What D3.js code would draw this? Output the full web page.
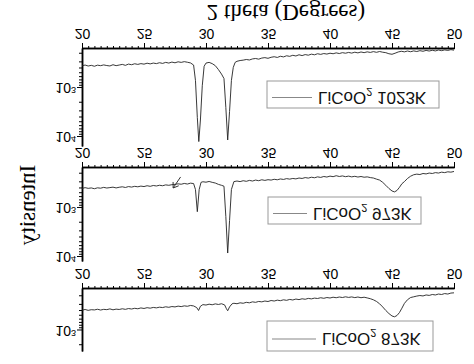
<!DOCTYPE html>
<meta charset="utf-8">
<style>
body{margin:0;background:#fff;}
svg#chart text{font-family:"Liberation Sans",Arial,sans-serif;}
</style>
<svg id="chart" width="474" height="364"></svg>
<script src="https://d3js.org/d3.v7.min.js"></script>
<script>
// XRD patterns of LiCoO2 annealed at three temperatures.
// The reference picture is mirrored top to bottom, so the chart is drawn
// the normal way and the whole group is flipped at the end.

// [2 theta (deg), intensity (counts)]
const XRD_1023K = [[20,352],[20.25,340],[20.5,356],[20.75,345],[21,360],[21.25,342],[21.5,350],[21.75,338],[22,348],[22.25,355],[22.5,335],[22.75,350],[23,340],[23.25,330],[23.5,345],[23.75,325],[24,335],[24.25,320],[24.5,330],[24.75,318],[25,326],[25.25,312],[25.5,322],[25.75,310],[26,318],[26.25,305],[26.5,315],[26.75,300],[27,310],[27.25,296],[27.5,306],[27.75,292],[28,300],[28.25,290],[28.5,298],[28.75,308],[29,340],[29.15,700],[29.3,4000],[29.42,12400],[29.55,4500],[29.7,900],[29.85,360],[30,310],[30.25,300],[30.5,318],[30.75,350],[31,420],[31.25,520],[31.45,640],[31.6,2500],[31.75,11500],[31.9,3000],[32.05,700],[32.2,380],[32.35,300],[32.5,285],[32.75,275],[33,270],[33.25,262],[33.5,268],[33.75,255],[34,250],[34.25,258],[34.5,245],[34.75,240],[35,248],[35.25,236],[35.5,230],[35.75,238],[36,225],[36.25,232],[36.5,220],[36.75,226],[37,215],[37.25,222],[37.5,210],[37.75,218],[38,208],[38.25,214],[38.5,204],[38.75,210],[39,200],[39.25,206],[39.5,198],[39.75,203],[40,195],[40.25,200],[40.5,192],[40.75,198],[41,190],[41.25,195],[41.5,188],[41.75,194],[42,186],[42.25,192],[42.5,184],[42.75,190],[43,183],[43.25,188],[43.5,181],[43.75,187],[44,180],[44.25,186],[44.5,190],[44.75,200],[45,205],[45.25,195],[45.5,184],[45.75,178],[46,183],[46.25,176],[46.5,182],[46.75,175],[47,180],[47.25,173],[47.5,178],[47.75,171],[48,176],[48.25,170],[48.5,175],[48.75,168],[49,173],[49.25,167],[49.5,171],[49.75,165],[50,169]]

const XRD_973K = [[20,400],[20.25,385],[20.5,398],[20.75,390],[21,405],[21.25,388],[21.5,395],[21.75,380],[22,392],[22.25,384],[22.5,376],[22.75,390],[23,378],[23.25,370],[23.5,382],[23.75,366],[24,375],[24.25,362],[24.5,370],[24.75,358],[25,366],[25.25,352],[25.5,362],[25.75,348],[26,356],[26.25,344],[26.5,352],[26.75,338],[27,345],[27.25,335],[27.5,330],[27.75,322],[28,328],[28.25,316],[28.5,325],[28.75,312],[29,318],[29.15,420],[29.3,1190],[29.45,420],[29.6,300],[29.75,292],[30,298],[30.25,288],[30.5,300],[30.75,310],[31,330],[31.25,345],[31.45,360],[31.6,1500],[31.75,8300],[31.9,1800],[32.05,420],[32.25,290],[32.5,282],[32.75,290],[33,278],[33.25,286],[33.5,274],[33.75,282],[34,270],[34.25,278],[34.5,266],[34.75,274],[35,265],[35.25,270],[35.5,260],[35.75,266],[36,256],[36.25,262],[36.5,252],[36.75,258],[37,250],[37.25,255],[37.5,245],[37.75,250],[38,240],[38.25,246],[38.5,236],[38.75,242],[39,232],[39.25,238],[39.5,228],[39.75,234],[40,224],[40.25,230],[40.5,220],[40.75,228],[41,222],[41.25,230],[41.5,224],[41.75,232],[42,226],[42.25,234],[42.5,228],[42.75,236],[43,232],[43.25,240],[43.5,245],[43.75,258],[44,270],[44.25,300],[44.5,345],[44.75,400],[45,450],[45.2,470],[45.4,440],[45.6,380],[45.8,320],[46,290],[46.25,250],[46.5,225],[46.75,210],[47,204],[47.25,208],[47.5,198],[47.75,202],[48,194],[48.25,198],[48.5,190],[48.75,194],[49,186],[49.25,190],[49.5,183],[49.75,186],[50,180]]

const XRD_873K = [[20,385],[20.25,372],[20.5,388],[20.75,376],[21,380],[21.25,368],[21.5,382],[21.75,370],[22,375],[22.25,362],[22.5,378],[22.75,366],[23,372],[23.25,360],[23.5,370],[23.75,356],[24,364],[24.25,352],[24.5,360],[24.75,346],[25,355],[25.25,342],[25.5,350],[25.75,338],[26,345],[26.25,334],[26.5,340],[26.75,328],[27,336],[27.25,324],[27.5,330],[27.75,318],[28,325],[28.25,314],[28.5,320],[28.75,308],[29,315],[29.25,340],[29.4,390],[29.55,320],[29.75,296],[30,302],[30.25,290],[30.5,298],[30.75,286],[31,294],[31.25,284],[31.5,300],[31.65,360],[31.75,395],[31.9,330],[32.1,285],[32.25,278],[32.5,284],[32.75,272],[33,278],[33.25,266],[33.5,272],[33.75,260],[34,266],[34.25,255],[34.5,260],[34.75,250],[35,256],[35.25,244],[35.5,250],[35.75,240],[36,246],[36.25,236],[36.5,242],[36.75,232],[37,238],[37.25,228],[37.5,234],[37.75,225],[38,230],[38.25,221],[38.5,226],[38.75,218],[39,222],[39.25,214],[39.5,220],[39.75,212],[40,217],[40.25,209],[40.5,214],[40.75,207],[41,212],[41.25,205],[41.5,211],[41.75,206],[42,213],[42.25,207],[42.5,214],[42.75,209],[43,216],[43.25,224],[43.5,236],[43.75,255],[44,285],[44.25,330],[44.5,390],[44.75,450],[45,505],[45.2,525],[45.4,495],[45.6,430],[45.8,350],[46,280],[46.25,235],[46.5,212],[46.75,205],[47,198],[47.25,193],[47.5,197],[47.75,188],[48,192],[48.25,184],[48.5,188],[48.75,180],[49,184],[49.25,176],[49.5,180],[49.75,172],[50,170]]

// tick labels and sample names
const X_TICKS = [20, 25, 30, 35, 40, 45, 50]
const SAMPLE_NAMES = ['1023K', '973K', '873K']
// little arrow in the 973K pattern: [tail], [tip] in (2 theta, counts)
const ARROW_973K = [[27.95, 233], [27.35, 391]]

// panel layout, in unflipped pixels
const panels = [
  {data: XRD_1023K, bottom: 315, top: 217, lo: 160, hi: 16000, box: [267, 256, 172, 27], tx: 318},
  {data: XRD_973K,  bottom: 196, top: 102, lo: 153, hi: 12650, box: [268, 140, 153, 27], tx: 313},
  {data: XRD_873K,  bottom: 75,  top: 12,  lo: 142, hi: 2750,  box: [267, 13, 166, 30], tx: 322}
]

const svg = d3.select('#chart')
const root = svg.append('g').attr('transform', 'translate(0,364) scale(1,-1)')

const x = d3.scaleLinear().domain([20, 50]).range([82, 454])
const xMinor = d3.range(20, 50.001, 0.5)

function logTicks(lo, hi) {
  const major = [], minor = []
  for (let e = Math.floor(Math.log10(lo)); e <= Math.ceil(Math.log10(hi)); e++) {
    for (let k = 1; k < 10; k++) {
      const v = k * Math.pow(10, e)
      if (v < lo || v > hi) continue
      if (k === 1) major.push(v)
      else minor.push(v)
    }
  }
  return {major, minor}
}

panels.forEach((p, i) => {
  const y = d3.scaleLog().domain([p.lo, p.hi]).range([p.bottom, p.top])
  const g = root.append('g')
  const ticks = logTicks(p.lo, p.hi)

  // x axis: minor then major ticks
  g.append('g').attr('transform', `translate(0,${p.bottom})`)
    .call(d3.axisBottom(x).tickValues(xMinor).tickSize(3).tickSizeOuter(0).tickFormat(''))
  const xa = g.append('g').attr('transform', `translate(0,${p.bottom})`)
    .call(d3.axisBottom(x).tickValues(X_TICKS).tickSize(6).tickPadding(4).tickSizeOuter(0))
  xa.attr('font-size', 14).attr('font-family', '"Liberation Sans",Arial,sans-serif')

  // y axis (log)
  g.append('g').attr('transform', 'translate(82,0)')
    .call(d3.axisLeft(y).tickValues(ticks.minor).tickSize(3).tickSizeOuter(0).tickFormat(''))
  const ya = g.append('g').attr('transform', 'translate(82,0)')
    .call(d3.axisLeft(y).tickValues(ticks.major).tickSize(5).tickPadding(1).tickSizeOuter(0).tickFormat(() => '10'))
  ya.attr('font-size', 14).attr('font-family', '"Liberation Sans",Arial,sans-serif')
  ya.selectAll('.tick text').append('tspan')
    .attr('dy', '-0.45em').attr('font-size', 9)
    .text(d => Math.round(Math.log10(d)))
  g.selectAll('.domain').attr('stroke-width', 1.5)

  // the pattern
  const line = d3.line().x(d => x(d[0])).y(d => y(d[1]))
  g.append('path').datum(p.data)
    .attr('d', line)
    .attr('fill', 'none')
    .attr('stroke', '#222')
    .attr('stroke-width', 0.9)

  if (i === 1) {
    const [t0, t1] = ARROW_973K.map(d => [x(d[0]), y(d[1])])
    const a = Math.atan2(t1[1] - t0[1], t1[0] - t0[0])
    const w = (s) => [t1[0] - 6 * Math.cos(a + s), t1[1] - 6 * Math.sin(a + s)]
    g.append('path')
      .attr('d', `M${t0}L${t1}M${w(0.6)}L${t1}L${w(-0.6)}`)
      .attr('fill', 'none').attr('stroke', '#333').attr('stroke-width', 1)
  }

  // legend
  const [bx, by, bw, bh] = p.box
  g.append('rect').attr('x', bx).attr('y', by).attr('width', bw).attr('height', bh)
    .attr('fill', '#fff').attr('stroke', '#999')
  const ly = by + bh / 2 - 3
  g.append('line').attr('x1', bx + 5).attr('x2', p.tx - 6).attr('y1', ly).attr('y2', ly)
    .attr('stroke', '#888').attr('stroke-width', 1.2)
  const t = g.append('text').attr('x', p.tx).attr('y', by + bh / 2 + 3).attr('font-size', 17).attr('fill', '#111')
  t.append('tspan').text('LiCoO')
  t.append('tspan').attr('dy', 4).attr('font-size', 11).text('2')
  t.append('tspan').attr('dy', -4).text(' ' + SAMPLE_NAMES[i])
})

// axis titles
root.append('text')
  .attr('x', 286).attr('y', 359)
  .attr('text-anchor', 'middle')
  .style('font', '23px "Liberation Serif", "Times New Roman", serif')
  .text('2 theta (Degrees)')

root.append('text')
  .attr('transform', 'translate(35,159) rotate(-90)')
  .attr('text-anchor', 'middle')
  .style('font', '23px "Liberation Serif", "Times New Roman", serif')
  .text('Intensity')
</script>
